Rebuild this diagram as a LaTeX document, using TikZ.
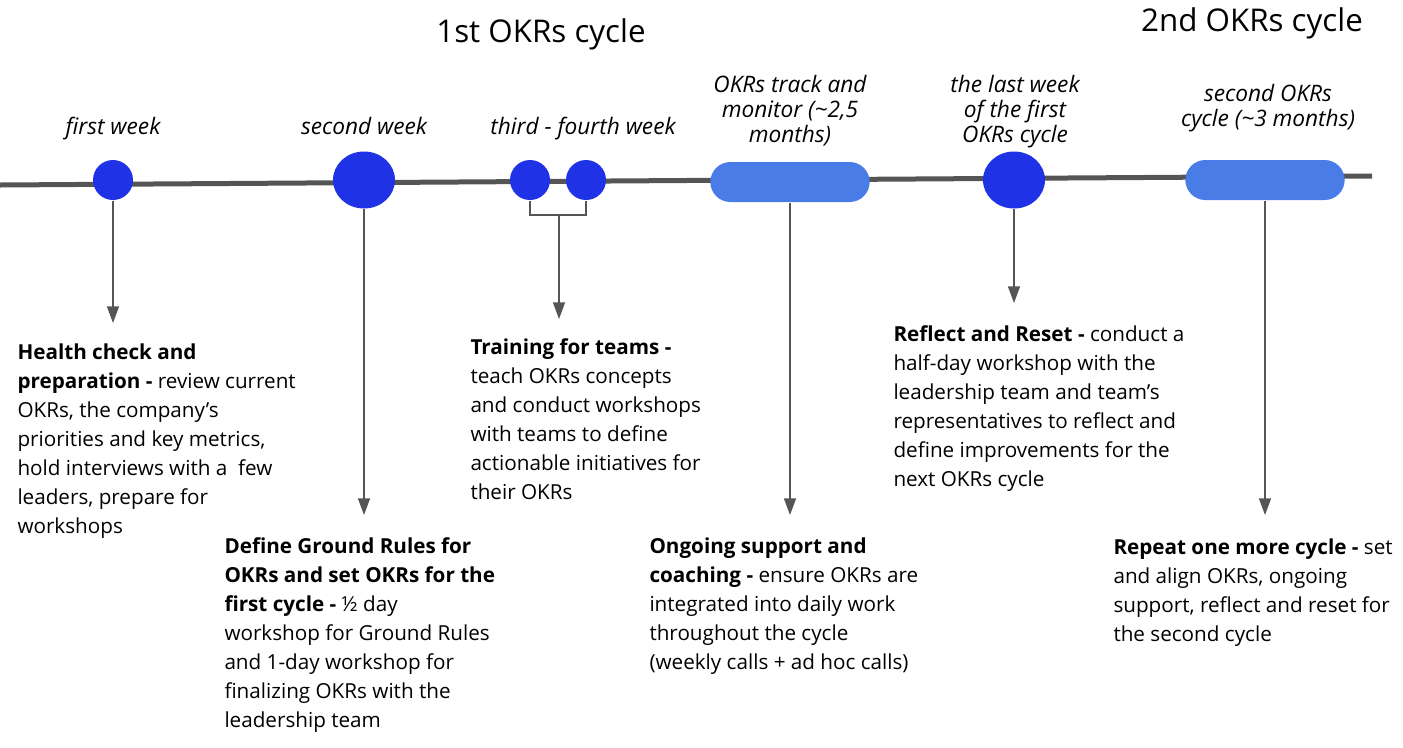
\documentclass[tikz,border=0pt]{standalone}
\usepackage{fontspec}
\setmainfont{Open Sans}
\usetikzlibrary{shapes.geometric,arrows.meta}

\definecolor{dotblue}{RGB}{31,50,230}
\definecolor{pillblue}{RGB}{74,124,232}
\definecolor{linegray}{RGB}{85,85,85}

\tikzset{every picture/.style={line width=0.75pt}}
\tikzset{
  dot/.style={circle, fill=dotblue, inner sep=0pt, minimum size=30pt},
  bigdot/.style={ellipse, fill=dotblue, inner sep=0pt, minimum width=46.5pt, minimum height=42.75pt},
  pill/.style={rectangle, rounded corners=15pt, fill=pillblue, inner sep=0pt, minimum width=119.5pt, minimum height=30pt},
  % base of a multi-line node = baseline of its last line
  when/.style={align=center, anchor=base, inner sep=0pt, font=\fontsize{17}{18.75}\selectfont\itshape},
  desc/.style={align=left, anchor=base west, inner sep=0pt, font=\fontsize{15.5}{21.75}\selectfont},
  cycletitle/.style={anchor=base, inner sep=0pt, font=\fontsize{23.5}{28}\selectfont},
  arr/.style={draw=linegray, line width=1.1pt, -{Triangle[length=12.5pt,width=9pt]}},
}

\begin{document}
\begin{tikzpicture}[x=0.75pt,y=0.75pt,yscale=-1,xscale=1]
\path[use as bounding box] (0,0) rectangle (1403,747);

% Timeline
\draw[linegray, line width=3.75pt] (0,185) -- (1372,176);

% Titles
\node[cycletitle] (first) at (541,42) {1st OKRs cycle};
\node[cycletitle] (second) at (1252,31) {2nd OKRs cycle};

% Milestones
\node[dot] (wk1) at (113,180) {};
\node[bigdot] (wk2) at (364,180) {};
\node[dot] (wk3) at (530,180) {};
\node[dot] (wk4) at (586,180) {};
\node[pill] (track) at (790,182) {};
\node[bigdot] (lastwk) at (1014,180) {};
\node[pill] (cyc2) at (1265,180) {};

% Text Node
\node[when] (lwk1) at (113,134) {first week};
\node[when] (lwk2) at (364,134) {second week};
\node[when] (lwk34) at (583,134) {third - fourth week};
\node[when] (ltrack) at (790,142) {OKRs track and\\monitor (\textasciitilde2,5\\months)};
\node[when] (llast) at (1015,142) {the last week\\of the first\\OKRs cycle};
\node[when] (lcyc2) at (1268,126) {second OKRs\\cycle (\textasciitilde3 months)};

% Text Node
\node[desc] (dhealth) at (17,533) {\textbf{Health check and}\\\textbf{preparation -} review current\\OKRs, the company’s\\priorities and key metrics,\\hold interviews with a\ \ few\\leaders, prepare for\\workshops};
\node[desc] (dground) at (224,727) {\textbf{Define Ground Rules for}\\\textbf{OKRs and set OKRs for the}\\\textbf{first cycle -} ½ day\\workshop for Ground Rules\\and 1-day workshop for\\finalizing OKRs with the\\leadership team};
\node[desc] (dtrain) at (470,499) {\textbf{Training for teams -}\\teach OKRs concepts\\and conduct workshops\\with teams to define\\actionable initiatives for\\their OKRs};
\node[desc] (dsupport) at (649,669) {\textbf{Ongoing support and}\\\textbf{coaching -} ensure OKRs are\\integrated into daily work\\throughout the cycle\\(weekly calls + ad hoc calls)};
\node[desc] (dreflect) at (893,486) {\textbf{Reflect and Reset -} conduct a\\half-day workshop with the\\leadership team and team’s\\representatives to reflect and\\define improvements for the\\next OKRs cycle};
\node[desc] (drepeat) at (1113,641) {\textbf{Repeat one more cycle -} set\\and align OKRs, ongoing\\support, reflect and reset for\\the second cycle};

% Arrow ends
\coordinate (e1) at (113,323);
\coordinate (e2) at (364,515);
\coordinate (brk) at (559,215);
\coordinate (e34) at (559,319);
\coordinate (etrack) at (790,515);
\coordinate (elast) at (1012,303);
\coordinate (ecyc2) at (1267,515);

% Connection
\draw[arr] (wk1.south) -- (wk1.south |- e1);
\draw[arr] (wk2.south) -- (wk2.south |- e2);
\draw[linegray, line width=1.1pt] (wk3.south) |- (brk) -| (wk4.south);
\draw[arr] (brk) -- (e34);
\draw[arr] (track.south) -- (track.south |- etrack);
\draw[arr] (lastwk.south) -- (lastwk.south |- elast);
\draw[arr] (cyc2.south) -- (cyc2.south |- ecyc2);

\end{tikzpicture}
\end{document}
